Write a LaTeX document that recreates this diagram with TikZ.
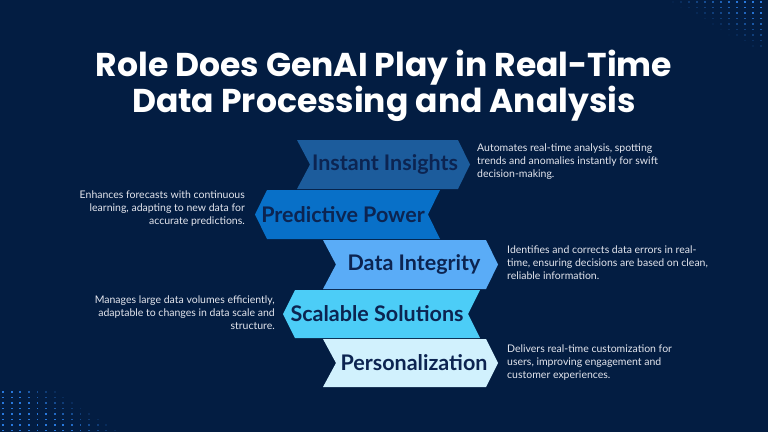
\documentclass[tikz,border=0pt]{standalone}
\usepackage{fontspec}
\setmainfont{Lato}
\newfontfamily\titlefont{Poppins}
\usepackage{tikz}
\usetikzlibrary{positioning}
\definecolor{bgnavy}{RGB}{3,29,66}
\definecolor{dotblue}{RGB}{40,120,220}
\definecolor{inkblue}{RGB}{12,36,81}
\definecolor{descgray}{RGB}{228,230,238}
\definecolor{chevA}{RGB}{28,92,156}
\definecolor{chevB}{RGB}{8,112,200}
\definecolor{chevC}{RGB}{90,172,247}
\definecolor{chevD}{RGB}{76,205,247}
\definecolor{chevE}{RGB}{209,241,253}

\begin{document}
\begin{tikzpicture}[x=1pt, y=-1pt,
    label/.style={font=\fontsize{21.5}{23}\selectfont\bfseries, text=inkblue, inner sep=0pt},
    desc/.style={font=\fontsize{10.5}{12.6}\selectfont, text=descgray, inner sep=0pt},
    descL/.style={desc, align=left, anchor=north west},
    descR/.style={desc, align=right, anchor=north east}]
    % background
    \fill[bgnavy] (0,0) rectangle (768,432);
    \useasboundingbox (0,0) rectangle (768,432);
    % dots, top right
    \foreach \i in {0,...,13} {
        \foreach \j in {0,...,8} {
            \pgfmathsetmacro\dotx{665+8*\i}
            \pgfmathsetmacro\doty{2+5.5*\j}
            \pgfmathsetmacro\dotop{min(1,max(0,(\dotx-665-80*\doty/45)/70))}
            \ifdim \dotop pt>0.02pt
                \fill[dotblue, opacity=\dotop] (\dotx-0.9,\doty-0.9) rectangle (\dotx+0.9,\doty+0.9);
            \fi
        }
    }
    % dots, bottom left
    \foreach \i in {0,...,15} {
        \foreach \j in {0,...,8} {
            \pgfmathsetmacro\dotx{3+8.6*\i}
            \pgfmathsetmacro\doty{392+5.5*\j}
            \pgfmathsetmacro\dotop{min(1,max(0,(60+65*(\doty-390)/42-\dotx)/50))}
            \ifdim \dotop pt>0.02pt
                \fill[dotblue, opacity=\dotop] (\dotx-0.9,\doty-0.9) rectangle (\dotx+0.9,\doty+0.9);
            \fi
        }
    }

    % title
    \node[font=\titlefont\bfseries\fontsize{33}{29}\selectfont, text=white, align=center] (title) at (384,86)
        {Role Does GenAI Play in Real-Time\\Data Processing and Analysis};

    % chevrons
    \fill[chevA] (297,140) -- (458,140) -- (470,164.5) -- (458,189) -- (297,189) -- (310,164.5) -- cycle;
    \fill[chevB] (267,190) -- (440,190) -- (428,214.5) -- (440,239) -- (267,239) -- (255,214.5) -- cycle;
    \fill[chevC] (323,240) -- (486,240) -- (498,264.5) -- (486,289) -- (323,289) -- (336,264.5) -- cycle;
    \fill[chevD] (295,290) -- (480,290) -- (468,314) -- (480,338) -- (295,338) -- (283,314) -- cycle;
    \fill[chevE] (323,339) -- (486,339) -- (498,363) -- (486,387) -- (323,387) -- (336,363) -- cycle;

    \node[label] (insight) at (385,164.5) {Instant Insights};
    \node[label] (predict) at (343,214.5) {Predictive Power};
    \node[label] (integrity) at (414,264.5) {Data Integrity};
    \node[label] (scale) at (377,314) {Scalable Solutions};
    \node[label] (person) at (414,363) {Personalization};

    % descriptions
    \node[descL] (insightD) at (477,144) {Automates real-time analysis, spotting\\trends and anomalies instantly for swift\\decision-making.};
    \node[descR] (predictD) at (245,191) {Enhances forecasts with continuous\\learning, adapting to new data for\\accurate predictions.};
    \node[descL] (integrityD) at (507,246) {Identifies and corrects data errors in real-\\time, ensuring decisions are based on clean,\\reliable information.};
    \node[descR] (scaleD) at (275,296) {Manages large data volumes efficiently,\\adaptable to changes in data scale and\\structure.};
    \node[descL] (personD) at (507,345) {Delivers real-time customization for\\users, improving engagement and\\customer experiences.};
\end{tikzpicture}
\end{document}
